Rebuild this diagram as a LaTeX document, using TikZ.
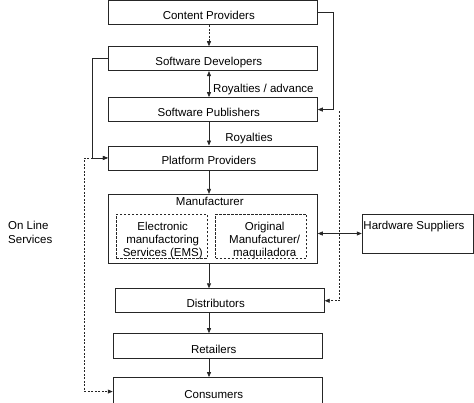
\documentclass[tikz,border=0pt]{standalone}
\usepackage{fontspec}
\setmainfont{Liberation Sans}
\usetikzlibrary{positioning,arrows.meta}

\tikzset{
  box/.style={draw=black!85, line width=0.9pt, minimum width=209pt, minimum height=24pt,
    text height=14pt, text depth=0pt, inner sep=2pt, execute at begin node={\hspace*{-8pt}}},
  subbox/.style={draw=black!85, line width=0.7pt, dash pattern=on 2.5pt off 1.5pt,
    minimum width=91pt, minimum height=44pt, inner sep=0pt},
  txt/.style={inner sep=0pt, align=center},
  flow/.style={draw=black!85, line width=0.7pt, -{Triangle[length=5pt,width=4pt]}},
  twoway/.style={draw=black!85, line width=0.7pt, {Triangle[length=5pt,width=4pt]}-{Triangle[length=5pt,width=4pt]}},
  dots/.style={dash pattern=on 2pt off 1.5pt},
}

\begin{document}
\begin{tikzpicture}[x=1pt, y=-1pt, font=\fontsize{11.5pt}{13.4pt}\selectfont]
\useasboundingbox (0,0) rectangle (474,402);

%% MAIN CHAIN
\node[box](content) at (212.8,12.75){Content Providers};
\node[box, below=21pt of content](soft_dev){Software Developers};
\node[box, below=26pt of soft_dev](soft_pub){Software Publishers};
\node[box, below=23.5pt of soft_pub](plat_prov){Platform Providers};

\node[box, below=23.5pt of plat_prov, minimum height=69pt](manuf){};
\node[anchor=base, inner sep=0pt](manuf_lbl) at ([xshift=-3pt, yshift=-11.5pt]manuf.north){Manufacturer};

\node[box, below=24.5pt of manuf, xshift=6.9pt](distrib){Distributors};
\node[box, below=20pt of distrib, xshift=-2pt, minimum height=25pt](retail){Retailers};
\node[box, below=18pt of retail, minimum height=28pt](consum){Consumers};

\coordinate (spine) at (209,0);

%% MANUFACTURER PARTS
\node[subbox](ems) at (161.7,236.3){};
\node[subbox](oem) at (261.2,236.3){};
\node[txt, anchor=north](ems_txt) at ([xshift=1pt, yshift=-7.6pt]ems.north){Electronic\\manufactoring\\Services (EMS)};
\node[txt, anchor=north](oem_txt) at ([xshift=3.5pt, yshift=-7.6pt]oem.north){Original\\Manufacturer/\\maquiladora};

%% HARDWARE
\node[draw=black!85, line width=0.9pt, minimum width=111pt, minimum height=39pt](hw) at (417.7,233.5){};
\node[anchor=base west, inner sep=0pt](hw_lbl) at ([xshift=1.5pt, yshift=-15.8pt]hw.north west){Hardware Suppliers};

%% ONLINE
\node[txt, align=left, anchor=north west](online) at (8,221.4){On Line\\Services};

%% EDGES
\draw[flow, dots] (content.south -| spine) -- (soft_dev.north -| spine);
\draw[twoway] (soft_dev.south -| spine) -- (soft_pub.north -| spine);
\draw[flow] (soft_pub.south -| spine) -- (plat_prov.north -| spine);
\draw[flow] (plat_prov.south -| spine) -- (manuf.north -| spine);
\draw[flow] (manuf.south -| spine) -- (distrib.north -| spine);
\draw[flow] (distrib.south -| spine) -- (retail.north -| spine);
\draw[flow] (retail.south -| spine) -- (consum.north -| spine);

\node[anchor=base west, inner sep=0pt](roy_adv) at (213,92.3){Royalties / advance};
\node[anchor=base west, inner sep=0pt](roy) at (225.2,141.7){Royalties};

\coordinate (right_jog) at (333.3,0);
\coordinate (left_jog) at (92,0);
\draw[flow] (content.east) -- (content.east -| right_jog) -- (soft_pub.east -| right_jog) -- (soft_pub.east);
\draw[flow] (soft_dev.west) -- (soft_dev.west -| left_jog) -- (plat_prov.west -| left_jog) -- (plat_prov.west);

\draw[twoway] (hw.west -| manuf.east) -- (hw.west);

% dotted online channels
\coordinate (dot_right) at (339.7,111);
\coordinate (dot_left) at (84.5,0);
\draw[flow, dots] (dot_right) -- (distrib.east -| dot_right) -- (distrib.east);
\draw[twoway, dots] (plat_prov.west) -- (plat_prov.west -| dot_left) -- (consum.west -| dot_left) -- (consum.west);

\end{tikzpicture}
\end{document}
